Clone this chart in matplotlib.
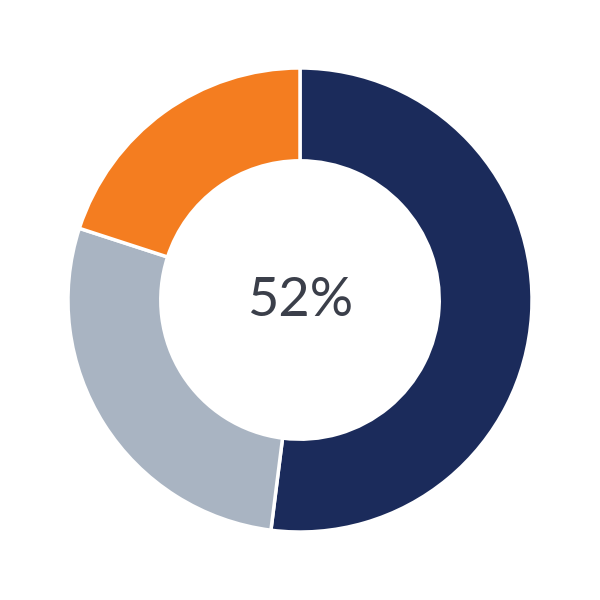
import matplotlib
matplotlib.use("Agg")
import matplotlib.pyplot as plt

labels = ["A", "B", "C"]
values = [52, 28, 20]
colors = ["#1b2b5b", "#a9b4c2", "#f47d20"]
center_text = "52%"

fig = plt.figure(figsize=(6, 6), dpi=100)
ax = fig.add_axes([0, 0, 1, 1])
ax.pie(values, colors=colors, startangle=90, counterclock=False,
       radius=1.0, wedgeprops=dict(width=0.4, edgecolor="white", linewidth=2.5))
ax.set_aspect("equal")
ax.set_xlim(-1.293, 1.293)
ax.set_ylim(-1.293, 1.293)
ax.axis("off")
ax.text(0, 0, center_text, ha="center", va="center", fontsize=39,
        color="#3b3f4a", family=["Lato", "DejaVu Sans"], fontweight="normal")
fig.savefig("out.png", dpi=100, facecolor="white")
